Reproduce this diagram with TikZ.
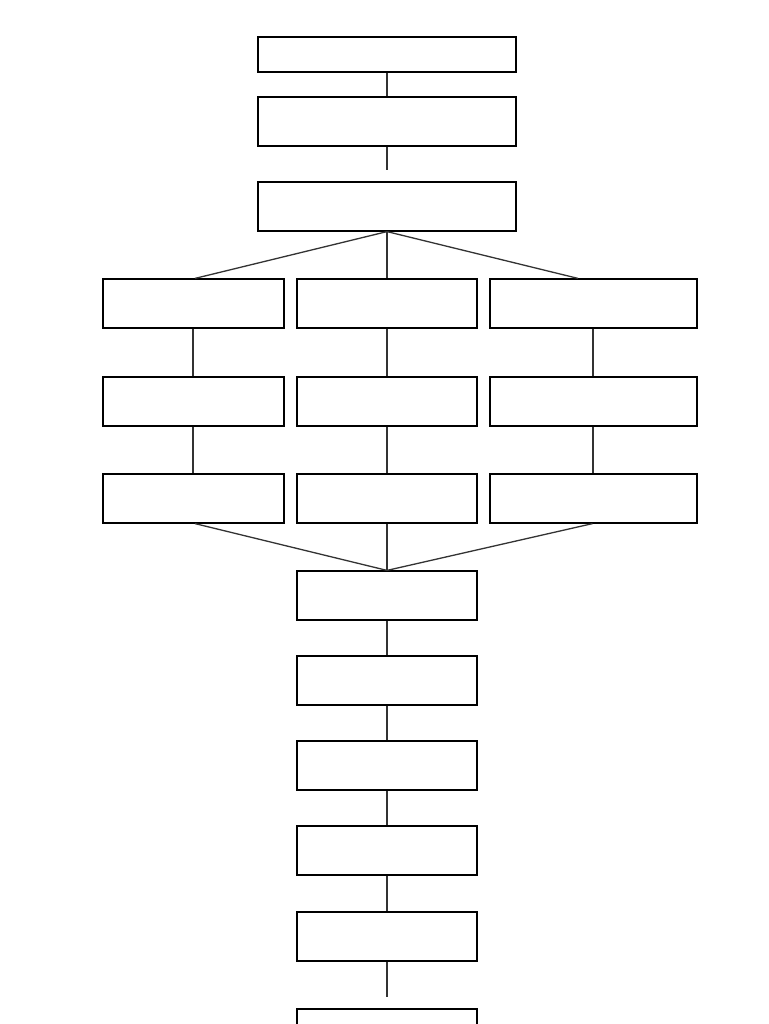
\documentclass[tikz,border=0pt]{standalone}
\begin{document}
\begin{tikzpicture}[x=1pt,y=-1pt,
  box/.style={draw=black,line width=1.2pt,fill=white,inner sep=0pt},
  conn/.style={draw=black!80,line width=1.3pt}]
\useasboundingbox (0,0) rectangle (768,1024);
\fill[white] (0,0) rectangle (768,1024);
% top column
\node[box,minimum width=258pt,minimum height=35pt] (b1) at (387,54.5) {};
\node[box,minimum width=258pt,minimum height=49pt] (b2) at (387,121.5) {};
\node[box,minimum width=258pt,minimum height=49pt] (b3) at (387,206.5) {};
\coordinate (e1) at (387,170);
% three columns
\node[box,minimum width=181pt,minimum height=49pt] (l1) at (193.5,303.5) {};
\node[box,minimum width=180pt,minimum height=49pt] (m1) at (387,303.5) {};
\node[box,minimum width=207pt,minimum height=49pt] (r1) at (593.5,303.5) {};
\node[box,minimum width=181pt,minimum height=49pt] (l2) at (193.5,401.5) {};
\node[box,minimum width=180pt,minimum height=49pt] (m2) at (387,401.5) {};
\node[box,minimum width=207pt,minimum height=49pt] (r2) at (593.5,401.5) {};
\node[box,minimum width=181pt,minimum height=49pt] (l3) at (193.5,498.5) {};
\node[box,minimum width=180pt,minimum height=49pt] (m3) at (387,498.5) {};
\node[box,minimum width=207pt,minimum height=49pt] (r3) at (593.5,498.5) {};
% bottom column
\node[box,minimum width=180pt,minimum height=49pt] (c1) at (387,595.5) {};
\node[box,minimum width=180pt,minimum height=49pt] (c2) at (387,680.5) {};
\node[box,minimum width=180pt,minimum height=49pt] (c3) at (387,765.5) {};
\node[box,minimum width=180pt,minimum height=49pt] (c4) at (387,850.5) {};
\node[box,minimum width=180pt,minimum height=49pt] (c5) at (387,936.5) {};
\node[box,minimum width=180pt,minimum height=49pt] (c6) at (387,1033.5) {};
\coordinate (e2) at (387,997);
% connectors
\draw[conn] (b1.south) -- (b2.north);
\draw[conn] (b2.south) -- (e1);
\draw[conn] (b3.south) -- ([xshift=1.5pt]l1.north);
\draw[conn] (b3.south) -- (m1.north);
\draw[conn] (b3.south) -- ([xshift=-15.5pt]r1.north);
\draw[conn] ([xshift=-0.5pt]l1.south) -- ([xshift=-0.5pt]l2.north);
\draw[conn] (m1.south) -- (m2.north);
\draw[conn] ([xshift=-0.5pt]r1.south) -- ([xshift=-0.5pt]r2.north);
\draw[conn] ([xshift=-0.5pt]l2.south) -- ([xshift=-0.5pt]l3.north);
\draw[conn] (m2.south) -- (m3.north);
\draw[conn] ([xshift=-0.5pt]r2.south) -- ([xshift=-0.5pt]r3.north);
\draw[conn] ([xshift=1.5pt]l3.south) -- (c1.north);
\draw[conn] (m3.south) -- (c1.north);
\draw[conn] ([xshift=-1pt]r3.south) -- (c1.north);
\draw[conn] (c1.south) -- (c2.north);
\draw[conn] (c2.south) -- (c3.north);
\draw[conn] (c3.south) -- (c4.north);
\draw[conn] (c4.south) -- (c5.north);
\draw[conn] (c5.south) -- (e2);
\end{tikzpicture}
\end{document}
